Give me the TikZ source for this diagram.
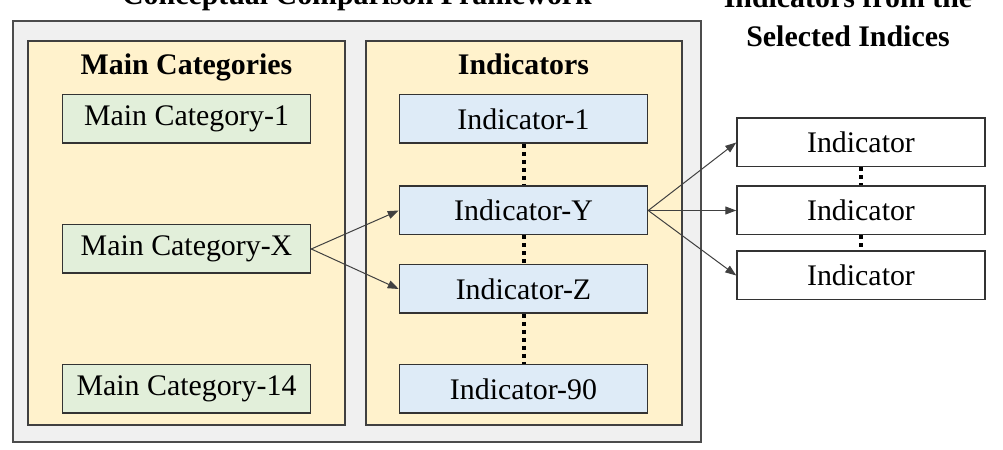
\documentclass[tikz,border=0pt]{standalone}
\usepackage{fontspec}
\setmainfont{Liberation Serif}
\usetikzlibrary{arrows.meta}

\definecolor{frameGray}{HTML}{F0F0F0}
\definecolor{panelYellow}{HTML}{FFF2CC}
\definecolor{catGreen}{HTML}{E2EFDA}
\definecolor{indBlue}{HTML}{DEEBF7}

\begin{document}
\begin{tikzpicture}[
            x=0.2mm, y=-0.2mm,
            >={Triangle[length=2.2mm,width=1.6mm]},
            every node/.style={font=\fontsize{17}{20}\selectfont},
            box/.style={draw=black!80, line width=0.3mm, minimum width=49.6mm, minimum height=9.7mm, inner sep=0pt},
            catbox/.style={box, fill=catGreen},
            indbox/.style={box, fill=indBlue},
            selbox/.style={box, fill=white},
            heading/.style={font=\fontsize{17}{20}\selectfont\bfseries, anchor=base},
            panel/.style={fill=panelYellow, draw=black!75, line width=0.3mm},
            link/.style={->, draw=black!75, line width=0.2mm},
            gap/.style={line width=0.8mm, dash pattern=on 0.8mm off 0.8mm}
        ]
            \useasboundingbox (0,0) rectangle (1003,450);

            % frame and the two panels
            \draw[fill=frameGray, draw=black!70, line width=0.4mm] (13,21) rectangle (701,442);
            \draw[panel] (28,41) rectangle (345,425);
            \draw[panel] (366,41) rectangle (682,425);

            \node[heading] (title) at (357,5) {Conceptual Comparison Framework};
            \node[heading] (cathead) at (186.5,75) {Main Categories};
            \node[heading] (indhead) at (523.5,75) {Indicators};
            \node[heading] (selhead1) at (848,8) {Indicators from the};
            \node[heading] (selhead2) at (848,47) {Selected Indices};

            \node[catbox] (cat1) at (186.5,119) {Main Category-1};
            \node[catbox] (catX) at (186.5,249) {Main Category-X};
            \node[catbox] (cat14) at (186.5,389) {Main Category-14};

            \node[indbox] (ind1) at (523.5,119) {Indicator-1};
            \node[indbox] (indY) at (523.5,210.5) {Indicator-Y};
            \node[indbox] (indZ) at (523.5,289) {Indicator-Z};
            \node[indbox] (ind90) at (523.5,389) {Indicator-90};

            \node[selbox] (sel1) at (861,142.5) {Indicator};
            \node[selbox] (sel2) at (861,210.5) {Indicator};
            \node[selbox] (sel3) at (861,275.5) {Indicator};

            % dotted gaps
            \draw[gap] (ind1.south) -- (indY.north);
            \draw[gap] (indY.south) -- (indZ.north);
            \draw[gap] (indZ.south) -- (ind90.north);
            \draw[gap] (sel1.south) -- (sel2.north);
            \draw[gap] (sel2.south) -- (sel3.north);

            % arrows
            \draw[link] (catX.east) -- (indY.west);
            \draw[link] (catX.east) -- (indZ.west);
            \foreach \s in {sel1,sel2,sel3}
                \draw[link] (indY.east) -- (\s.west);
        \end{tikzpicture}
\end{document}
